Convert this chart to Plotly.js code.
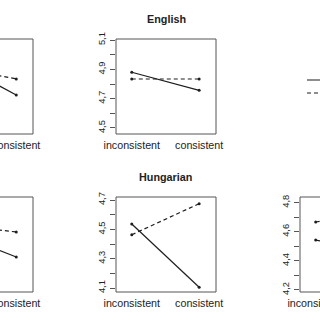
<!DOCTYPE html>
<html>
<head>
<meta charset="utf-8">
<script src="https://cdn.plot.ly/plotly-3.0.1.min.js"></script>
<style>html,body{margin:0;padding:0;background:#fff;}#chart{width:320px;height:320px;}</style>
</head>
<body>
<div id="chart"></div>
<script>
// ---- data ----
const categories = ["inconsistent", "consistent"];

// top-left panel (cut off by the crop)
const topLeftSolid  = [4.97, 4.725];
const topLeftDashed = [4.92, 4.835];

// English panel
const englishSolid  = [4.88, 4.757];
const englishDashed = [4.834, 4.834];

// bottom-left panel (cut off by the crop)
const bottomLeftSolid  = [4.494, 4.311];
const bottomLeftDashed = [4.534, 4.482];

// Hungarian panel
const hungarianSolid  = [4.536, 4.105];
const hungarianDashed = [4.463, 4.675];

// bottom-right panel (cut off by the crop)
const bottomRightSolid  = [4.543, 4.45];
const bottomRightDashed = [4.667, 4.75];

// tick labels
const englishTickVals = [4.5, 4.6, 4.7, 4.8, 4.9, 5.0, 5.1];
const englishTickText = ["4,5", "", "4,7", "", "4,9", "", "5,1"];
const hungarianTickVals = [4.1, 4.2, 4.3, 4.4, 4.5, 4.6, 4.7];
const hungarianTickText = ["4,1", "", "4,3", "", "4,5", "", "4,7"];
const rightTickVals = [4.2, 4.3, 4.4, 4.5, 4.6, 4.7, 4.8];
const rightTickText = ["4,2", "", "4,4", "", "4,6", "", "4,8"];

const panelTitles = ["English", "Hungarian"];
const legendNames = [" ", " "];

// ---- styling ----
const W = 320, H = 320;
const lineColor = "#1e1e1e";
const boxColor = "#555555";
const textColor = "#222";
const FONT = "Liberation Sans, Arial, sans-serif";
const dashPattern = "4px,3px";

function trace(y, xa, ya, dashed, extra) {
  return Object.assign({
    x: categories, y: y, xaxis: xa, yaxis: ya,
    type: "scatter", mode: "lines+markers",
    line: {color: lineColor, width: 1.2, dash: dashed ? dashPattern : "solid"},
    marker: {color: lineColor, size: 3},
    showlegend: false, hoverinfo: "skip"
  }, extra || {});
}

const data = [
  trace(topLeftSolid, "x", "y", false),
  trace(topLeftDashed, "x", "y", true),
  trace(englishSolid, "x2", "y2", false, {showlegend: true, name: legendNames[0], legend: "legend"}),
  trace(englishDashed, "x2", "y2", true, {showlegend: true, name: legendNames[1], legend: "legend2"}),
  trace(bottomLeftSolid, "x3", "y3", false),
  trace(bottomLeftDashed, "x3", "y3", true),
  trace(hungarianSolid, "x4", "y4", false),
  trace(hungarianDashed, "x4", "y4", true),
  trace(bottomRightSolid, "x5", "y5", false),
  trace(bottomRightDashed, "x5", "y5", true)
];

const px = v => v / W;
const py = v => 1 - v / H;

function xAxis(d0, d1, r0, r1, anchor) {
  return {
    domain: [px(d0), px(d1)], range: [r0, r1], type: "category", anchor: anchor,
    showgrid: false, zeroline: false, showline: false, ticks: "",
    tickfont: {family: FONT, size: 10.7, color: textColor},
    ticklabelstandoff: 3, fixedrange: true
  };
}
function yAxis(top, bottom, r0, r1, anchor, vals, text, show) {
  return {
    domain: [py(bottom), py(top)], range: [r0, r1], anchor: anchor,
    showgrid: false, zeroline: false, showline: false,
    ticks: show ? "outside" : "", ticklen: 5, tickwidth: 1, tickcolor: boxColor,
    tickvals: vals, ticktext: text, showticklabels: show, tickangle: -90,
    tickfont: {family: FONT, size: 9.3, color: textColor},
    ticklabelstandoff: 1, fixedrange: true
  };
}

const topT = 39, topB = 134, botT = 197, botB = 292;

const layout = {
  width: W, height: H,
  margin: {l: 0, r: 0, t: 0, b: 0, pad: 0, autoexpand: false},
  paper_bgcolor: "#fff", plot_bgcolor: "rgba(0,0,0,0)",
  font: {family: FONT, color: textColor},
  xaxis:  xAxis(0, 33, 0.7575, 1.25, "y"),
  yaxis:  yAxis(topT, topB, 4.459, 5.107, "x", englishTickVals, englishTickText, false),
  xaxis2: xAxis(116, 216, -0.234, 1.25, "y2"),
  yaxis2: yAxis(topT, topB, 4.459, 5.107, "x2", englishTickVals, englishTickText, true),
  xaxis3: xAxis(0, 33, 0.7575, 1.25, "y3"),
  yaxis3: yAxis(botT, botB, 4.0727, 4.7205, "x3", hungarianTickVals, hungarianTickText, false),
  xaxis4: xAxis(116, 216, -0.234, 1.25, "y4"),
  yaxis4: yAxis(botT, botB, 4.0727, 4.7205, "x4", hungarianTickVals, hungarianTickText, true),
  xaxis5: xAxis(300, 320, -0.234, 0.0645, "y5"),
  yaxis5: yAxis(botT, botB, 4.186, 4.839, "x5", rightTickVals, rightTickText, true),
  shapes: [
    {type: "rect", xref: "x domain", yref: "y domain", x0: -2, x1: 1, y0: 0, y1: 1, line: {color: boxColor, width: 1}},
    {type: "rect", xref: "x2 domain", yref: "y2 domain", x0: 0, x1: 1, y0: 0, y1: 1, line: {color: boxColor, width: 1}},
    {type: "rect", xref: "x3 domain", yref: "y3 domain", x0: -2, x1: 1, y0: 0, y1: 1, line: {color: boxColor, width: 1}},
    {type: "rect", xref: "x4 domain", yref: "y4 domain", x0: 0, x1: 1, y0: 0, y1: 1, line: {color: boxColor, width: 1}},
    {type: "rect", xref: "x5 domain", yref: "y5 domain", x0: 0, x1: 6, y0: 0, y1: 1, line: {color: boxColor, width: 1}}
  ],
  annotations: [
    {text: "<b>" + panelTitles[0] + "</b>", xref: "paper", yref: "paper", x: px(166), y: py(19),
     xanchor: "center", yanchor: "middle", showarrow: false, font: {family: FONT, size: 10.8, color: textColor}},
    {text: "<b>" + panelTitles[1] + "</b>", xref: "paper", yref: "paper", x: px(165), y: py(177),
     xanchor: "center", yanchor: "middle", showarrow: false, font: {family: FONT, size: 10.8, color: textColor}}
  ],
  legend:  {x: px(302), y: py(80), xanchor: "left", yanchor: "middle", bgcolor: "rgba(0,0,0,0)", borderwidth: 0,
            font: {family: FONT, size: 10, color: textColor}},
  legend2: {x: px(302), y: py(93), xanchor: "left", yanchor: "middle", bgcolor: "rgba(0,0,0,0)", borderwidth: 0,
            font: {family: FONT, size: 10, color: textColor}},
  showlegend: true
};

Plotly.newPlot("chart", data, layout, {staticPlot: true, displayModeBar: false});
</script>
</body>
</html>
